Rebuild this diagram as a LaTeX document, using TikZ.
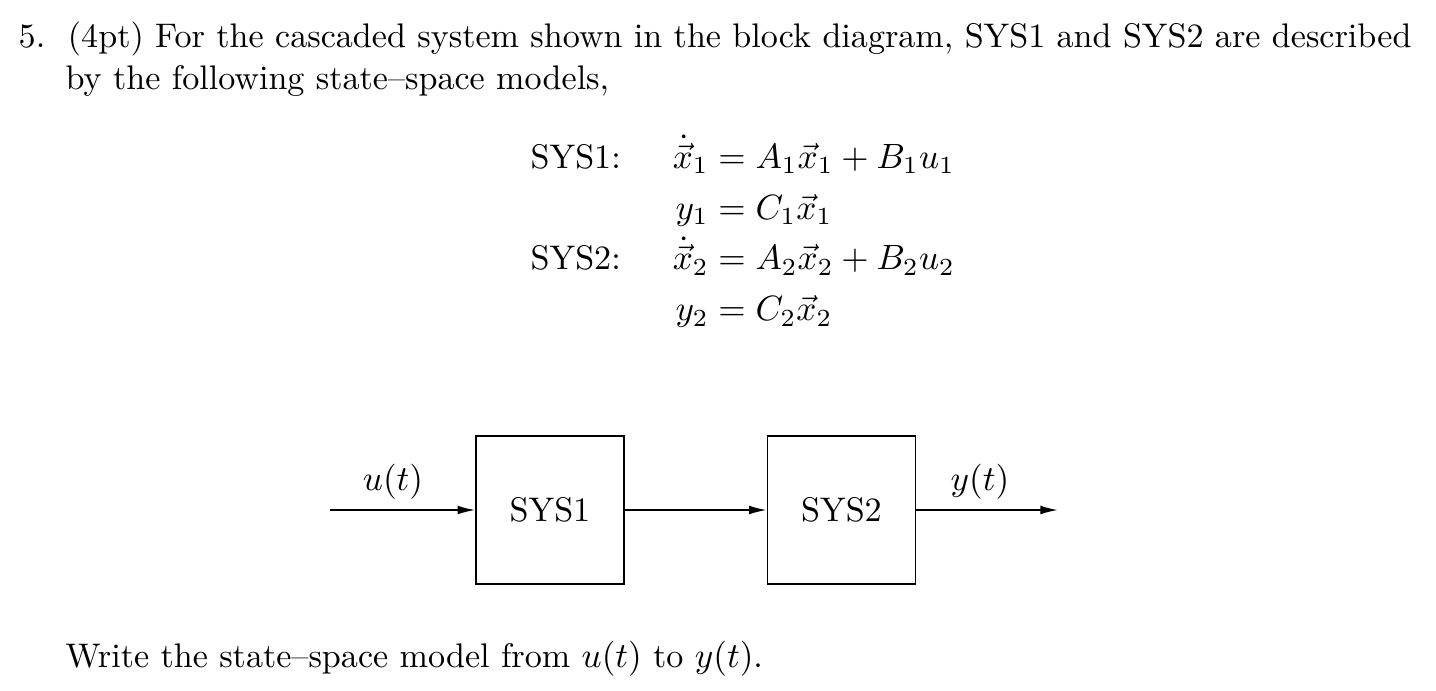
\documentclass[tikz,border=0pt]{standalone}
\usepackage{amsmath}
\usetikzlibrary{arrows.meta}
\begin{document}
\begin{tikzpicture}[x=0.01cm,y=-0.01cm,
  txt/.style={anchor=base west,inner sep=0pt,font=\fontsize{9.7}{14.5}\selectfont},
  blk/.style={draw,minimum width=1.48cm,minimum height=1.48cm,font=\fontsize{9.7}{12}\selectfont},
  sig/.style={-{Latex[length=5pt,width=2.5pt]},line width=0.5pt}]
\useasboundingbox (0,0) rectangle (1436,690);
\node[txt] (l1) at (18,47) {5.\ \ (4pt) For the cascaded system shown in the block diagram, SYS1 and SYS2 are described};
\node[txt] (l2) at (65,89) {by the following state--space models,};
\node[txt] (eqs) at (530,168) {\begin{tabular}[t]{@{}l@{}r@{}l@{}}
\makebox[1.42cm][l]{SYS1:} & \makebox[0.32cm][r]{$\dot{\vec{x}}_1$} & $\;=A_1\vec{x}_1+B_1u_1$\\
 & $y_1$ & $\;=C_1\vec{x}_1$\\
SYS2: & $\dot{\vec{x}}_2$ & $\;=A_2\vec{x}_2+B_2u_2$\\
 & $y_2$ & $\;=C_2\vec{x}_2$
\end{tabular}};
\node[blk] (b1) at (550,510) {SYS1};
\node[blk] (b2) at (841.5,510) {SYS2};
\coordinate (in) at (330,510);
\coordinate (out) at (1058,510);
\draw[sig] (in) -- (b1.west);
\draw[sig] (b1.east) -- (b2.west);
\draw[sig] (b2.east) -- (out);
\node[font=\fontsize{9.7}{12}\selectfont] (u) at (393,482) {$u(t)$};
\node[font=\fontsize{9.7}{12}\selectfont] (y) at (980,482) {$y(t)$};
\node[txt] (l3) at (65,667) {Write the state--space model from $u(t)$ to $y(t)$.};
\end{tikzpicture}
\end{document}
